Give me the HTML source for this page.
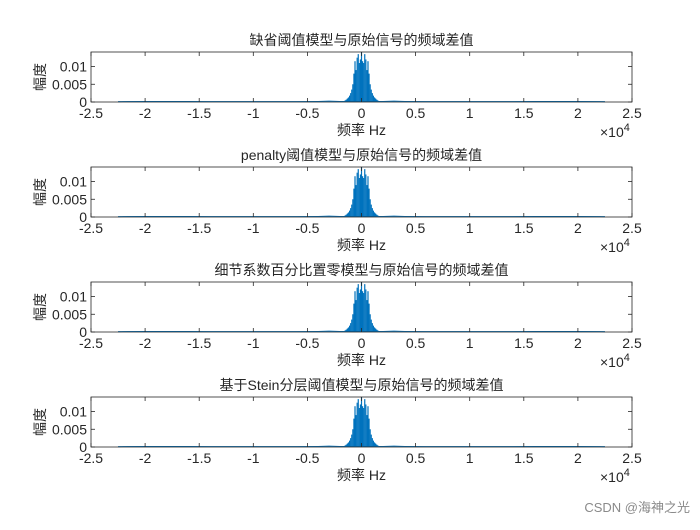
<!DOCTYPE html>
<html><head><meta charset="utf-8"><style>
body{margin:0;background:#fff}
svg text{font-family:"Liberation Sans","Noto Sans CJK SC",sans-serif;fill:#262626}
</style></head><body>
<svg id="c" width="700" height="525" xmlns="http://www.w3.org/2000/svg">
<rect width="700" height="525" fill="#fff"/>
<text x="690" y="512" font-size="13" text-anchor="end" style="fill:#8a8a8a">CSDN @海神之光</text>
</svg>
<script>
const titles=["缺省阈值模型与原始信号的频域差值","penalty阈值模型与原始信号的频域差值","细节系数百分比置零模型与原始信号的频域差值","基于Stein分层阈值模型与原始信号的频域差值"];
const xTicks=[-2.5,-2,-1.5,-1,-0.5,0,0.5,1,1.5,2,2.5];
const yTicks=[0,0.005,0.01];
const yTickLabels=["0","0.005","0.01"];
const coreFreq=[-1500,-1400,-1300,-1200,-1100,-1000,-900,-800,-700,-600,-500,-400,-300,-200,-100,0,100,200,300,400,500,600,700,800,900,1000,1100,1200,1300,1400,1500];
const coreMag=[0.0005,0.0007,0.001,0.0013,0.0018,0.0025,0.0035,0.005,0.008,0.0115,0.009,0.0125,0.0135,0.011,0.012,0.0141,0.0115,0.011,0.0135,0.012,0.009,0.0115,0.008,0.005,0.0035,0.0025,0.0018,0.0013,0.001,0.0007,0.0005];
const floorFreq=[-22000,-20000,-18000,-16000,-14000,-12000,-10000,-8000,-6000,-4000,-3000,-2000,2000,3000,4000,6000,8000,10000,12000,14000,16000,18000,20000,22000];
const floorMag=[0.0001,0.0002,0.0002,0.0002,0.0001,0.0001,0.0001,0.0001,0.0001,0.0002,0.0003,0.0002,0.0002,0.0003,0.0002,0.0001,0.0001,0.0001,0.0001,0.0001,0.0002,0.0002,0.0002,0.0001];
const NS="http://www.w3.org/2000/svg",svg=document.getElementById('c');
function el(t,a,p){const e=document.createElementNS(NS,t);for(const k in a)e.setAttribute(k,a[k]);(p||svg).appendChild(e);return e;}
const L=91,R=632,H=50,tops=[52,167,282,397],YMAX=0.0141;
tops.forEach((top,i)=>{
 const g=el('g',{});
 
 
 const bot=top+H;
 const xs=v=>L+(v/25000+1)*(R-L)/2;
 const ys=v=>bot-v/YMAX*H;
 const t=el('text',{x:(L+R)/2,y:top-7,'font-size':14,'text-anchor':'middle'},g);t.textContent=titles[i];
 
 let d='M'+xs(-22500)+' '+bot;
 floorFreq.forEach((f,j)=>{d+=' L'+xs(f)+' '+ys(floorMag[j]);});
 d+=' L'+xs(22500)+' '+bot;
 const fl=el('path',{d:d,fill:'none',stroke:'#0072BD','stroke-width':0.6},g);
 
 el('line',{x1:xs(-22500),x2:xs(22500),y1:bot-0.5,y2:bot-0.5,stroke:'#0072BD','stroke-width':0.8},g);
 coreFreq.forEach((f,j)=>{
  const ln=el('line',{x1:xs(f),x2:xs(f),y1:bot,y2:ys(coreMag[j]),stroke:'#0072BD','stroke-width':1.2},g);
  
  
 });
 const ax=el('rect',{x:L,y:top,width:R-L,height:H,fill:'none',stroke:'#262626','stroke-width':0.8},g);
 
 xTicks.forEach(v=>{const x=xs(v*10000);
  el('line',{x1:x,x2:x,y1:bot,y2:bot-4,stroke:'#262626','stroke-width':0.8},g);
  el('line',{x1:x,x2:x,y1:top,y2:top+4,stroke:'#262626','stroke-width':0.8},g);
  const tx=el('text',{x:x,y:bot+16,'font-size':14,'text-anchor':'middle'},g);tx.textContent=String(v);
  });
 yTicks.forEach((v,j)=>{const y=ys(v);
  el('line',{x1:L,x2:L+4,y1:y,y2:y,stroke:'#262626','stroke-width':0.8},g);
  el('line',{x1:R,x2:R-4,y1:y,y2:y,stroke:'#262626','stroke-width':0.8},g);
  const tx=el('text',{x:L-4,y:y+5,'font-size':14,'text-anchor':'end'},g);tx.textContent=yTickLabels[j];
  });
 const xl=el('text',{x:(L+R)/2,y:bot+33,'font-size':14,'text-anchor':'middle'},g);xl.textContent='频率 Hz';
 
 const yl=el('text',{x:0,y:0,'font-size':14,'text-anchor':'middle',transform:`translate(45,${top+H/2}) rotate(-90)`},g);yl.textContent='幅度';
 
 const ex=el('text',{x:600,y:bot+35,'font-size':14},g);ex.innerHTML='×10<tspan dy="-6" font-size="11">4</tspan>';
 
});
</script>
</body></html>
